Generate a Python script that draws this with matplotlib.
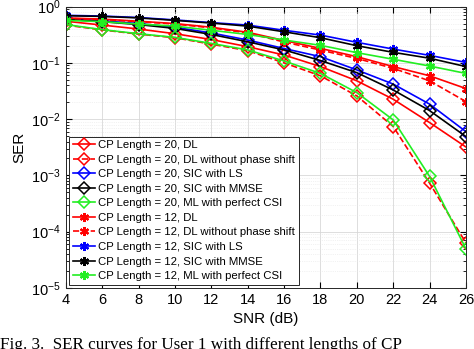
import numpy as np
import matplotlib
matplotlib.use("Agg")
import matplotlib.pyplot as plt
from matplotlib.ticker import LogLocator, NullFormatter, FixedLocator

plt.rcParams['font.family'] = ['Liberation Sans', 'DejaVu Sans']
plt.rcParams['mathtext.fontset'] = 'custom'
plt.rcParams['mathtext.rm'] = 'Liberation Sans'
plt.rcParams['mathtext.default'] = 'regular'

snr = [4, 6, 8, 10, 12, 14, 16, 18, 20, 22, 24, 26]

# CP length = 20 (diamond markers)
cp20_dl = [0.55, 0.47, 0.40, 0.33, 0.26, 0.194, 0.138, 0.086, 0.048, 0.0226, 0.0087, 0.0032]
cp20_dl_nops = [0.47, 0.385, 0.325, 0.28, 0.215, 0.165, 0.10, 0.059, 0.0259, 0.0074, 0.00073, 6.3e-5]
cp20_sic_ls = [0.62, 0.56, 0.50, 0.43, 0.34, 0.255, 0.18, 0.129, 0.075, 0.042, 0.0185, 0.006]
cp20_sic_mmse = [0.60, 0.54, 0.48, 0.41, 0.32, 0.237, 0.17, 0.11, 0.067, 0.033, 0.0142, 0.0049]
cp20_ml = [0.48, 0.39, 0.33, 0.284, 0.222, 0.17, 0.108, 0.065, 0.0296, 0.0097, 0.00096, 4.95e-5]

# CP length = 12 (asterisk markers)
cp12_dl = [0.63, 0.60, 0.55, 0.50, 0.43, 0.35, 0.25, 0.181, 0.129, 0.086, 0.059, 0.035]
cp12_dl_nops = [0.62, 0.59, 0.54, 0.49, 0.42, 0.34, 0.235, 0.169, 0.12, 0.08, 0.048, 0.0205]
cp12_sic_ls = [0.70, 0.68, 0.64, 0.58, 0.52, 0.47, 0.38, 0.312, 0.232, 0.176, 0.136, 0.102]
cp12_sic_mmse = [0.69, 0.67, 0.63, 0.57, 0.51, 0.45, 0.357, 0.28, 0.202, 0.154, 0.121, 0.086]
cp12_ml = [0.57, 0.54, 0.49, 0.45, 0.38, 0.32, 0.255, 0.205, 0.152, 0.116, 0.088, 0.065]

labels = ['CP Length = 20, DL',
          'CP Length = 20, DL without phase shift',
          'CP Length = 20, SIC with LS',
          'CP Length = 20, SIC with MMSE',
          'CP Length = 20, ML with perfect CSI',
          'CP Length = 12, DL',
          'CP Length = 12, DL without phase shift',
          'CP Length = 12, SIC with LS',
          'CP Length = 12, SIC with MMSE',
          'CP Length = 12, ML with perfect CSI']

series = [cp20_dl, cp20_dl_nops, cp20_sic_ls, cp20_sic_mmse, cp20_ml,
          cp12_dl, cp12_dl_nops, cp12_sic_ls, cp12_sic_mmse, cp12_ml]
colors = ['#ff0000', '#ff0000', '#0000ff', '#000000', '#22ee22'] * 2
styles = ['-', '--', '-', '-', '-'] * 2
asterisk = (6, 2, 0)

fig = plt.figure(figsize=(4.74, 3.49), dpi=100)
ax = fig.add_axes([0.139, 0.175, 0.844, 0.806])

for k, (y, lab) in enumerate(zip(series, labels)):
    if k < 5:
        ax.semilogy(snr, y, styles[k], color=colors[k], lw=1.2, marker='D',
                    ms=6.2, mfc='none', mew=1.1, label=lab)
    else:
        ax.semilogy(snr, y, styles[k], color=colors[k], lw=1.2, marker=asterisk,
                    ms=6.5, mew=1.5, label=lab)

ax.set_xlim(4, 26)
ax.set_ylim(1e-5, 1)
ax.xaxis.set_major_locator(FixedLocator(snr))
ax.yaxis.set_major_locator(LogLocator(base=10, numticks=10))
ax.yaxis.set_minor_locator(LogLocator(base=10, subs=np.arange(2, 10), numticks=20))
ax.yaxis.set_minor_formatter(NullFormatter())
ax.tick_params(which='both', direction='in', top=True, right=True, labelsize=10.5)
ax.tick_params(which='major', length=4, pad=4)
ax.tick_params(which='minor', length=2)
ax.grid(True, which='major', color='#d8d8d8', lw=0.6)
ax.grid(True, which='minor', axis='y', color='#e6e6e6', lw=0.5, ls=':')
for s in ax.spines.values():
    s.set_color('#262626')
    s.set_linewidth(0.7)

ax.set_xlabel('SNR (dB)', fontsize=11, labelpad=3)
ax.set_ylabel('SER', fontsize=11, labelpad=3)

leg = ax.legend(loc='lower left', bbox_to_anchor=(0.0, 0.0), fontsize=8.2,
                frameon=True, fancybox=False, edgecolor='#262626',
                framealpha=1, handlelength=2.0, handletextpad=0.25,
                labelspacing=0.4, borderpad=0.3, borderaxespad=0.3)
leg.get_frame().set_linewidth(0.7)

fig.text(0.0, 0.033, 'Fig. 3.  SER curves for User 1 with different lengths of CP',
         family='Liberation Serif', fontsize=12.3, va='top', ha='left')

fig.savefig('out.png', dpi=100)
